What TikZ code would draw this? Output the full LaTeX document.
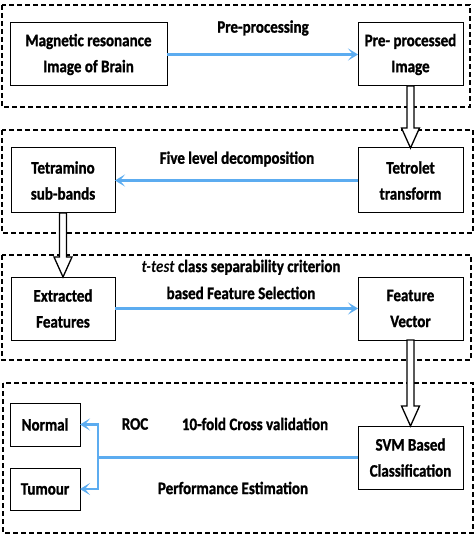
\documentclass[tikz,border=0pt]{standalone}
\usepackage{fontspec}
\setmainfont{Carlito}[FakeStretch=0.86, BoldFeatures={FakeBold=1.2}]
\usetikzlibrary{arrows.meta, calc, positioning}
\definecolor{flowblue}{RGB}{92,172,240}
\tikzset{%
stage box/.style={draw, line width=2pt, dash pattern=on 5pt off 3pt},
block/.style={
    rectangle, draw, line width=1pt,
    align=center, anchor=center,
    inner sep=0pt, outer sep=0pt,
    font=\bfseries\fontsize{17.5}{26}\selectfont
  },
caption/.style={inner sep=0pt, font=\bfseries\fontsize{17.5}{27}\selectfont},
flow line/.style={draw=flowblue, line width=2.2pt},
flow/.style={flow line, -{Stealth[length=10pt, width=12pt, inset=5pt]}},
hollow/.style={draw, line width=1.3pt, fill=white}
}
\newcommand\hollowarrow[2]{%
  \draw[hollow] let \p1=(#1.south), \p2=(#2.north) in
    (\x1-3.5pt,\y1) -- (\x1+3.5pt,\y1) -- (\x1+3.5pt,\y2+20pt) -- (\x1+9pt,\y2+20pt)
    -- (\x1,\y2) -- (\x1-9pt,\y2+20pt) -- (\x1-3.5pt,\y2+20pt) -- cycle;}

\begin{document}
\begin{tikzpicture}[x=1pt, y=-1pt]
\useasboundingbox (0,0) rectangle (474,534);

% stages
\draw[stage box] (2,5) rectangle (470,107);
\draw[stage box] (2,130) rectangle (473,233);
\draw[stage box] (2,255) rectangle (471,360);
\draw[stage box] (3,383) rectangle (473,533);

% blocks
\node[block, minimum width=157, minimum height=63] (mri) at (88.5,54.5) {Magnetic resonance\\Image of Brain};
\node[block, minimum width=105, minimum height=63] (prep) at (410.5,54.5) {Pre- processed\\Image};
\node[block, minimum width=105, minimum height=65] (tetrolet) at (410.5,180.5) {Tetrolet\\transform};
\node[block, minimum width=104, minimum height=65] (subbands) at (63,180.5) {Tetramino\\sub-bands};
\node[block, minimum width=104, minimum height=63] (extracted) at (63,308.5) {Extracted\\Features};
\node[block, minimum width=105, minimum height=63] (fvector) at (410.5,308.5) {Feature\\Vector};
\node[block, minimum width=105, minimum height=63] (svm) at (410.5,457.5) {SVM Based\\Classification};
\node[block, minimum width=70, minimum height=43] (normal) at (45,424.5) {Normal};
\node[block, minimum width=70, minimum height=42] (tumour) at (45,489) {Tumour};

% captions
\node[caption] (lpre) at (263,28) {Pre-processing};
\node[caption] (ldec) at (237,159) {Five level decomposition};
\node[caption, align=center] (lsel) at (241,279.5) {\textit{t-test} class separability criterion\\based Feature Selection};
\node[caption] (lroc) at (135,424) {ROC};
\node[caption] (lcv) at (255,424) {10-fold Cross validation};
\node[caption] (lperf) at (233,488) {Performance Estimation};

% connectors
\draw[flow] (mri) -- (prep);
\draw[flow] (tetrolet) -- (subbands);
\draw[flow] (extracted) -- (fvector);
\coordinate (split) at (98,457.5);
\draw[flow line] (svm.west) -- (split);
\draw[flow] (split) |- (normal.east);
\draw[flow] (split) |- (tumour.east);

\hollowarrow{prep}{tetrolet}
\hollowarrow{subbands}{extracted}
\hollowarrow{fvector}{svm}
\end{tikzpicture}
\end{document}
